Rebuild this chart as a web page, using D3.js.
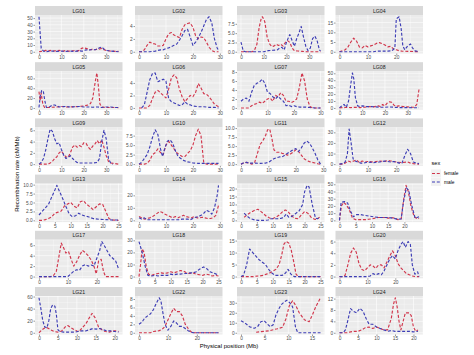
<!DOCTYPE html>
<html><head><meta charset="utf-8">
<script src="https://cdn.jsdelivr.net/npm/d3@7"></script>
<style>
body{margin:0;background:#fff}
svg{display:block}
text{font-family:"Liberation Sans",Arial,sans-serif}
</style>
</head><body>
<svg id="c" width="474" height="355"></svg>
<script>
// ---------- data (Physical position Mb, recombination rate cM/Mb) ----------
const panels = ["LG01","LG02","LG03","LG04","LG05","LG06","LG07","LG08","LG09","LG10","LG11","LG12",
                "LG13","LG14","LG15","LG16","LG17","LG18","LG19","LG20","LG21","LG22","LG23","LG24"];
const lgLength = [35.5,29.5,35,28,35.5,29.5,30,35,35.5,29.5,29,28,25,29.5,25,24.5,27.5,25,25,28.5,21,27.5,16.8,21.5];
const xTicks = [[0,10,20,30],[0,10,20,30],[0,10,20,30],[0,10,20],
                [0,10,20,30],[0,10,20,30],[0,10,20,30],[0,10,20,30],
                [0,10,20,30],[0,10,20,30],[0,10,20,30],[0,10,20],
                [0,5,10,15,20,25],[0,10,20,30],[0,5,10,15,20,25],[0,5,10,15,20],
                [0,10,20],[0,5,10,15,20,25],[0,5,10,15,20,25],[0,10,20],
                [0,5,10,15,20],[0,10,20],[0,5,10,15],[0,5,10,15,20]];
const yTicks = [["0","10","20","30","40","50"],["0","2","4"],["0.0","2.5","5.0","7.5"],["0","5","10","15"],
                ["0","20","40","60"],["0","2","4"],["0","2","4","6","8"],["0","10","20","30","40","50"],
                ["0","2","4","6"],["0.0","2.5","5.0","7.5"],["0.0","2.5","5.0","7.5","10.0"],["0","10","20","30"],
                ["0.0","2.5","5.0","7.5","10.0"],["0","10","20"],["0","5","10","15","20"],["0","10","20","30","40","50"],
                ["0","2","4","6"],["0","10","20","30"],["0","5","10","15"],["0","2","4","6"],
                ["0","20","40","60"],["0","2","4","6","8"],["0","10","20","30"],["0","4","8","12"]];

const f01 = [[0,0],[1,0.5],[2,1],[3,2],[4,1],[5,2],[6,1],[7,1.5],[8,1],[9,2],[10,1],[11,1],[12,2],[13,1],[14,1],[15,1.5],[16,1.5],[17,1],[18,2],[19,5],[20,6],[21,5],[22,4],[23,3],[24,4],[25,3],[26,4],[27,4],[28,5],[29,3],[30,2],[31,1.5],[32,1],[33,1],[34,0.5],[35.5,0.5]];
const m01 = [[0,52],[1,5],[2,1],[3,0],[4,0.5],[6,1],[8,0.5],[10,1],[12,0.5],[14,1],[16,0.5],[18,1.5],[19,1],[20,1],[21,3],[22,2],[23,3],[24,3],[25,3],[26,4],[27,6],[28,7],[29,4],[30,2],[31,1.5],[32,1],[34,0.5],[35.5,0]];
const f02 = [[0,0],[1,0],[2,0.3],[3,1],[4,1.5],[5,1.3],[6,1.2],[7,0.9],[8,0.9],[9,1],[10,2],[11,2.8],[12,3],[13,2.6],[14,2.4],[15,2.2],[16,3.5],[17,4.2],[18,4.4],[19,4.5],[20,3.8],[21,2.5],[22,2],[23,2.3],[24,2.2],[25,1.5],[26,0.7],[27,0.2],[28,0],[29.5,0]];
const m02 = [[0,0],[2,0],[4,0],[6,0.1],[7,0.2],[8,0.3],[9,0.3],[10,0.5],[11,0.6],[12,0.8],[13,1],[14,1.2],[15,1.8],[16,2.5],[17,3.3],[18,3.5],[19,2.3],[20,1],[21,1.5],[22,2.2],[23,3],[24,4],[25,5],[26,5.45],[27,4.5],[28,2],[29,0.6],[29.5,0.2]];
const f03 = [[0,0],[2,0],[4,0],[5,0],[6,0.5],[7,2],[8,6.5],[9,9.2],[9.5,9.4],[10.5,8],[11.5,4],[12.5,2.2],[13.5,1.4],[14.5,1.5],[15.5,2],[16.5,1.7],[17.5,2],[18.5,1.5],[19.5,2.5],[20.5,3],[21.5,2.5],[22.5,1],[23.5,0.3],[25,0.2],[27,0.1],[29,0],[31,0],[33,0],[35,0]];
const m03 = [[0,2.6],[1,0.2],[2,0],[4,0],[6,0],[8,0],[10,0],[11,0.1],[12,0.3],[14,0.4],[16,0.5],[17,1],[18,1.2],[19,0.5],[20,2.5],[21,4],[21.5,4.6],[22.5,3],[23.5,1.5],[24.5,3.5],[25.5,5],[26.5,6.8],[27.5,4],[28.5,1.5],[29.5,0.3],[30.5,1],[31.5,3.5],[32.5,4.2],[33.5,3],[34.5,0.5],[35,0.2]];
const f04 = [[0,0],[1,0.5],[2,1],[3,2.5],[4,5],[5,7],[6,5.5],[7,2.5],[8,2],[9,3.2],[10,2.5],[11,3],[12,3.5],[13,4.3],[14,4.7],[15,4.2],[16,3.5],[17,2.5],[18,2.8],[19,1.5],[20,1],[21,0.5],[22,0.3],[24,0.2],[26,0.1],[28,0]];
const m04 = [[0,0],[2,0],[4,0],[6,0],[8,0],[10,0],[12,0],[13,0.3],[15,0.3],[17,0.3],[18.5,0.5],[19.5,2],[20,17],[21,18],[21.7,12],[22.3,3],[23,1],[24,3],[25,4],[25.7,2],[26.5,0.5],[28,0]];
const f05 = [[0,33],[0.5,15],[1,30],[1.7,8],[2.5,1],[4,1],[6,1.5],[8,2],[10,3],[12,2],[14,2],[16,2.5],[18,3],[20,4],[22,6],[23,9],[24,20],[25,50],[25.8,71],[26.5,45],[27.2,8],[28,2],[30,1],[32,1],[34,1],[35.5,0.5]];
const m05 = [[0,1],[0.6,25],[1.2,35],[1.9,35],[2.6,15],[3.3,1],[4,1],[5,3],[6,6],[7,6],[8,4],[9,2],[10,2.5],[12,3],[14,2],[16,2.5],[18,3],[20,2],[22,2],[24,1.5],[26,2],[28,1],[30,2],[32,2],[34,1],[35.5,1]];
const f06 = [[0,0],[1,0],[2,0],[3,0],[4,0.4],[5,1.5],[6,2.5],[7,2.8],[8,2.4],[9,2],[10,1.6],[11,3],[12,4.8],[13,5.3],[14,4.8],[15,3],[16,1.8],[17,1],[18,1.5],[19,2],[20,1.8],[21,2.5],[22,3.9],[23,3.2],[24,2.3],[25,2.2],[26,1.8],[27,1.2],[28,0.6],[29.5,0.2]];
const m06 = [[1,0],[2,0.5],[3,2.5],[4,4.5],[5,5.5],[6,5.6],[7,4.2],[8,4.4],[9,4.6],[10,4.3],[11,1.5],[12,1],[13,0.8],[14,0.6],[15,0.4],[16,0.5],[17,1],[18,0.6],[19,0.5],[20,0.3],[22,0.2],[24,0.2],[26,0.1],[28,0.1],[29.5,0]];
const f07 = [[0,0],[1,0],[2,0],[3,0],[4,0.5],[5,0.8],[6,1],[7,1.3],[8,1],[9,1.5],[10,2],[11,2.2],[12,1.5],[13,2.8],[14,2.5],[15,3.4],[16,2.8],[17,1.5],[18,1.5],[19,1.2],[20,1.5],[21,2],[22,4.5],[23,7.8],[24,6],[25,2],[26,0.3],[27,0],[28,0],[30,0]];
const m07 = [[0,1.5],[1,2],[2,2.2],[3,1.5],[4,3.5],[5,5],[6,5.5],[7,5.8],[8,6.4],[9,5.5],[10,3.5],[11,3.2],[12,2.5],[13,2],[14,2.6],[15,2],[16,1.5],[17,0.5],[18,0.6],[19,0.3],[20,0.5],[21,0.3],[22,0.2],[24,0.2],[26,0.1],[28,0],[30,0]];
const f08 = [[0,0],[1,0.5],[2,0.5],[3,1],[5,0.5],[7,1],[9,0.5],[11,1],[13,2],[15,1.5],[17,3],[18,2],[19,5],[20,3],[21,7],[22,9],[23,8],[24,4],[25,2],[26,3],[28,2],[30,1.5],[32,1],[33,1],[34,5],[35,27]];
const m08 = [[0,0],[1,3],[2,5],[3,1],[4,10],[5,35],[5.7,50.5],[6.3,42],[7,15],[8,3],[9,2],[10,3],[12,2],[14,2],[16,1.5],[18,1],[20,1],[22,1.5],[24,1],[26,0.5],[28,0.5],[30,0.5],[32,0.3],[34,0.3],[35,0.3]];
const f09 = [[0,0],[2,0],[4,0],[5,0.2],[6,0.5],[7,1],[8,1.3],[9,2],[10,2.3],[11,1.8],[12,1.3],[13,1.2],[14,2],[15,3],[16,3.4],[17,3],[18,3.3],[19,3.1],[20,3.8],[21,3.7],[22,3],[23,2.6],[24,3.2],[25,3.6],[26,4.2],[27,3.6],[28,4.3],[29,3],[30,1.5],[31,0.5],[32,0.2],[34,0.1],[35.5,0]];
const m09 = [[0,0],[1,0.3],[2,1],[3,2.5],[4,4.5],[5,6.2],[6,5.8],[7,4.5],[8,3.6],[9,3.8],[10,2.6],[11,1.6],[12,1],[13,1.2],[14,1.5],[15,1],[16,0.6],[17,0.3],[18,0.2],[20,0.2],[22,0.2],[24,0.2],[26,0.3],[27,1],[28,4],[29,6],[30,4.5],[31,1],[32,0.2],[33,0]];
const f10 = [[0,0],[2,0],[3,0.2],[4,1],[5,2.5],[6,3],[7,4],[8,3],[9,2.5],[10,5],[11,6],[12,5],[13,4],[14,3],[15,2.5],[16,2],[17,2],[18,2.8],[19,3.5],[20,5],[21,7.5],[22,9.2],[23,7.5],[24,0.5],[25,0],[27,0],[29.5,0]];
const m10 = [[0,0],[1,0.5],[2,1.5],[3,2.5],[4,4.5],[5,7],[6,9],[7,7.8],[8,4],[8.7,2],[9.5,4],[10.5,6],[11.5,6.4],[12.5,5.5],[13.5,3.5],[14.5,2],[15.5,1.5],[16.5,1],[18,0.6],[19,0.5],[20,0.3],[22,0.2],[24,0.2],[26,0.2],[28,0.2],[29.5,0.2]];
const f11 = [[0,0],[1,0.3],[2,0.5],[3,0.3],[4,0],[5,0.5],[6,3],[7,5.5],[8,6.5],[9,8],[9.7,9.5],[10.5,9.7],[11.3,7],[12,4],[13,3.3],[14,3.3],[15,3],[16,2.8],[17,2.5],[18,2.8],[19,3.3],[20,4],[21,3.5],[22,2.5],[23,1.5],[24,1],[25,0.7],[26,0.5],[27,0.3],[28,0.1],[29,0]];
const m11 = [[0,0],[1,0.4],[2,0.5],[3,0.3],[5,0.3],[7,0.2],[9,0.3],[10,0.5],[11,1],[12,1.5],[13,1.8],[14,2],[15,2],[16,2.5],[17,3],[18,3.5],[19,4],[20,4.3],[21,3.5],[22,4.5],[23,5.8],[24,6.4],[25,5.8],[26,4.5],[27,3],[28,1.2],[29,0]];
const f12 = [[0,0],[1,0],[2,1],[3,3],[4,2],[5,3],[6,4],[7,1.5],[8,3],[9,2],[10,2.5],[12,2],[14,3],[16,2.5],[17,3.5],[18,3],[20,2],[22,1.5],[24,2],[25,1],[26,0.5],[27,0.2],[28,0]];
const m12 = [[0,0],[1,0.5],[2,2],[2.8,10],[3.4,33],[4,22],[4.8,5],[5.5,3],[6.5,2],[7.5,1],[8.5,1],[10,2],[12,1.5],[14,2],[16,3],[18,2],[19,2.5],[20,2],[21,1],[22,1],[23,8],[24,14],[25,10],[26,2],[27,1],[28,0.5]];
const f13 = [[0,0],[1,0],[2,0.2],[3,0.5],[4,1],[5,2],[6,2.3],[7,2.6],[8,4],[9,4.6],[10,5],[11,4],[12,3.5],[13,5.2],[14,5.5],[15,4.5],[16,3.8],[17,3],[18,3.8],[19,4.6],[20,4.5],[21,2.5],[22,0.5],[23,0.1],[25,0]];
const m13 = [[0,1.5],[1,2.5],[2,3.5],[3,4.5],[4,6.5],[5,8.5],[5.6,9.8],[6.5,8],[7.5,6],[8.5,3.8],[9.5,1.8],[10.5,1],[11.5,1.3],[12.5,2],[13.5,1.5],[14.5,1.2],[15.5,1],[17,0.5],[19,0.3],[21,0.2],[23,0.1],[25,0.1]];
const f14 = [[0,3],[1,2],[2,1],[3,1.5],[4,2],[5,3],[6,4.5],[7,6],[7.7,7],[8.5,6.5],[9.5,5],[10.5,4],[11.5,3],[12.5,2],[13.5,3],[14.5,2],[15.5,3],[16.5,4],[17.5,3],[18.5,2.5],[19.5,2],[20.5,3],[21.5,2],[22.5,2],[23.5,2.5],[24.5,2],[25.5,1.5],[26.5,1.5],[27.5,2],[28.5,4],[29.5,12]];
const m14 = [[0,2],[1,1],[2,2],[3,0.5],[5,0.5],[7,0.5],[9,0.5],[11,0.5],[13,0.5],[15,0.5],[16,1],[17,1],[18,1],[19,0.5],[20,1.5],[21,2.5],[22,3],[23,4],[24,5.5],[25,8],[26,7],[27,5],[28,10],[29,20],[29.5,28]];
const f15 = [[1,2],[2,3.5],[3,5],[4.5,6.5],[5.3,7],[6.3,5.5],[7.2,4],[8,2.5],[9,1.5],[9.8,1],[10.8,1.8],[11.8,3],[12.6,4.5],[13.4,6],[14,6.5],[14.8,5.5],[15.6,3.5],[16.4,2],[17.2,1.2],[18,1],[19,3.5],[20,5.5],[21,4.5],[22,2],[23,0.8],[23.8,0.5],[24.7,2]];
const m15 = [[1,4.5],[2,2.5],[3,1],[4.5,0.2],[5.5,0],[6.5,0],[7.5,0],[8.5,0.2],[9.5,1],[10.5,1],[11.5,1],[12.5,1.2],[13.5,2],[14.2,4],[15,2],[16,2.5],[17,4],[18.3,6],[19.4,10],[20,18],[20.8,22],[21.4,21],[22.4,10],[23.4,1.5],[24,1],[24.7,2]];
const f16 = [[0,0],[0.6,20],[1.3,25],[2,22],[3,15],[4,3],[5,1],[6,1],[7,1],[8,1],[9,1.5],[10,2],[11,3],[12,4],[13,4],[14,4],[15,3],[16,4],[17,3],[18,1],[19,2],[19.8,30],[20.5,48.5],[21.2,40],[22,20],[23,5],[24,2],[24.5,3]];
const m16 = [[0,0],[0.5,25],[1.5,26],[2.5,24],[3.5,12],[4.3,5],[5.3,8],[6.5,8],[7.5,7],[9,6],[10.5,5],[12,4],[13.5,4],[15,4],[16.5,3],[18,1.5],[19,2],[19.7,25],[20.6,45],[21.3,42],[22.3,20],[23.3,3],[24.5,5]];
const f17 = [[0,0],[2,0],[4,0],[5,0.2],[6,1],[6.8,3.5],[7.7,6.4],[8.5,5.5],[9.3,4.5],[10.2,4.8],[11,3.5],[12,2],[13,2.8],[14,4],[15,5],[16,4.6],[17,4],[18,3.2],[19,2],[19.8,0.5],[20.6,3],[21.5,3.3],[22.3,1],[23,0],[25,0],[27.5,0]];
const m17 = [[0,0],[2,0],[4,0],[6,0],[8,0],[10,0],[11,0.5],[12,1],[13,1.3],[14,1.2],[15,2],[16,2.3],[17,2],[18,2.2],[19,2],[20,3.5],[21,5],[21.7,6.7],[22.5,6],[23.5,5],[24.5,4],[25.5,3.5],[26.5,3],[27.5,1.5]];
const f18 = [[0,0],[0.5,10],[1,23],[1.6,20],[2.3,8],[3,2],[4,1],[5,2],[6,2.5],[7,3],[8,2.5],[9,3],[10,4],[11,3],[12,4],[13,5],[14,4.5],[15,3],[16,2.5],[17,3],[18,2],[19,1.5],[20,1],[21,2],[22,1.5],[23,0.5],[24,1],[25,0.5]];
const m18 = [[0,29],[1,20],[2,8],[2.8,1],[4,0.5],[5,1],[6,0.5],[7,1],[8,1],[9,1],[10,2],[11,1.5],[12,2],[13,2],[14,2.5],[15,2.5],[16,3],[17,3],[18,4],[19,6],[20.3,8],[21.3,6.5],[22.3,4],[23.3,3],[24.3,2],[25,1]];
const f19 = [[0,0],[2,0],[4,0],[5,0.2],[6,0.3],[7,0.5],[8,1],[9,1.5],[10,2.2],[11,3],[12,5],[12.8,9],[13.5,13.5],[14.2,14.6],[15,14],[15.8,11],[16.6,6],[17.3,1],[18,0],[20,0],[22,0],[25,0]];
const m19 = [[0,0],[0.8,0.5],[1.8,5],[2.7,11.5],[3.7,10],[4.7,8.5],[5.7,7],[6.7,6],[7.7,5],[8.7,3],[9.7,1.5],[10.7,0.5],[12,0.5],[13,0.5],[14,1.5],[14.8,3],[15.7,1],[16.7,0],[18,0],[20,0],[22,0],[25,0]];
const f20 = [[0,0],[1,0],[2,0.2],[3,2],[4,4],[5,4.9],[6,4.2],[7,2.2],[8,1.2],[9,1],[10,1.5],[11,2],[12,1.8],[13,1.4],[14,2],[15,2],[16,1.5],[17,2.5],[18,3.5],[19,4.4],[20,3.6],[21,2.2],[22,1.5],[23,1],[24,0.5],[25,0.3],[26,0.1],[27,0],[28.5,0]];
const m20 = [[0,0],[2,0],[4,0],[6,0],[8,0],[10,0],[11,0.1],[12,0.5],[13,0.3],[14,0.5],[15,0.3],[16,1],[17,2],[18,3],[19,3.6],[20,3],[21,4.5],[22,5.5],[22.8,6],[23.6,5],[24.6,6],[25.4,5.5],[26.1,2],[27,0.4],[28,0.8],[28.5,0]];
const f21 = [[0,0],[0.8,5],[1.5,8],[2.3,8],[3,5],[4,2],[5,1],[6,3],[7,10],[7.6,12],[8.5,8],[9.3,5],[10,3],[10.6,2],[11.4,8],[12.4,15],[13.3,25],[14,32],[14.8,25],[15.7,10],[16.6,5],[17.5,2],[18.5,1],[19.5,3],[20.3,3],[21,2]];
const m21 = [[0,58],[0.5,40],[1,20],[1.5,10],[2.1,8],[2.6,20],[3.1,40],[3.6,46],[4.2,44],[4.6,30],[5,5],[5.5,2],[6.5,1],[7.5,1],[8.5,1],[9.5,1],[10.3,2],[11.3,3],[12.3,3],[13.3,5],[14.2,7],[15.1,6],[16,7],[17,5],[18,3],[19,3],[20,2],[21,1]];
const f22 = [[0,0],[2,0],[4,0],[5,0.3],[6,0.4],[7,0.5],[8,0.8],[9,1.5],[10,3],[11,4.5],[12,5.8],[13,5],[14,5],[15,4],[16,2],[17,1],[18,0.2],[19,0],[21,0],[23,0],[25,0],[27.5,0]];
const m22 = [[0,2],[1,2.5],[2,3.5],[3,4],[4,4.5],[5,5.5],[6,7],[7,8.3],[7.6,7.5],[8.2,5],[9,2],[10,0.6],[11,1.5],[12,2.8],[13,2.3],[14,1.5],[15,1.5],[16,1],[17,0.5],[18,0.1],[19,0],[21,0],[23,0],[25,0],[27.5,0]];
const f23 = [[3.2,0.5],[4,1],[5,1.5],[6,2],[6.8,3],[7.7,4],[8.8,5.5],[9.5,14],[10.2,27],[10.9,32],[11.6,27],[12.3,20],[13.4,13],[14.4,11],[15.1,18],[15.8,26],[16.8,35]];
const m23 = [[0,12],[0.8,10],[1.8,6],[2.8,4.5],[3.5,6],[4.2,11],[4.9,12],[5.5,9],[6.2,6],[6.8,8],[7.4,18],[8,24],[8.5,28],[9.2,31],[9.7,32.5],[10.3,30],[10.9,26],[11.5,6],[12,0],[13,0],[14,0],[15,0],[16,0],[16.8,0]];
const f24 = [[0,0],[1,0],[2,0],[3,0.3],[4,0.5],[5,0.5],[6,1],[7,1.8],[8,2],[9,1.5],[10,2],[11,1.5],[12,1],[13,1],[14,5],[14.6,10],[15.1,12.3],[15.6,9],[16.1,4],[16.6,1],[17.2,4],[17.8,7],[18.8,7],[19.4,6],[20,2],[20.6,0.5],[21.2,1]];
const m24 = [[0,0],[1,0],[1.6,1],[2.2,4],[3,8.5],[3.8,7.5],[4.6,7],[5.5,8.6],[6.4,7.5],[7.2,5],[8,3],[9,3],[10,2],[11,1.5],[12,1],[13,0.5],[14,0.8],[15,0.5],[16,0.5],[17,0.5],[18,0.5],[19,0.5],[20,0.3],[21.2,0.5]];

const female = [f01,f02,f03,f04,f05,f06,f07,f08,f09,f10,f11,f12,f13,f14,f15,f16,f17,f18,f19,f20,f21,f22,f23,f24];
const male   = [m01,m02,m03,m04,m05,m06,m07,m08,m09,m10,m11,m12,m13,m14,m15,m16,m17,m18,m19,m20,m21,m22,m23,m24];
const sexes = ["female","male"];

// ---------- layout ----------
const colLeft = [35,135,237,335.5], panelW = 87.5;
const stripH = 9, panelH = 38.5, rowPitch = 56.2, top0 = 6;
const colors = {female:"#d1364c", male:"#3d3db5"};
const svg = d3.select("#c");

function minorOf(ticks, dom){
  const step = ticks.length>1 ? ticks[1]-ticks[0] : 1;
  const out = [];
  for (let t = ticks[0]-step; t <= ticks[ticks.length-1]+step; t += step){
    const m = t + step/2;
    if (m >= dom[0] && m <= dom[1]) out.push(m);
  }
  return out;
}

panels.forEach((name,i)=>{
  const c = i%4, r = Math.floor(i/4);
  const x0 = colLeft[c], sy = top0 + rowPitch*r, y0 = sy + stripH;
  const L = lgLength[i];
  const xs = d3.scaleLinear().domain([-0.05*L, 1.05*L]).range([0,panelW]);
  const ymax = d3.max(female[i].concat(male[i]), d=>d[1]);
  const ys = d3.scaleLinear().domain([-0.05*ymax, 1.05*ymax]).range([panelH,0]);
  const yt = yTicks[i].map(Number), xt = xTicks[i];

  // strip
  svg.append("rect").attr("x",x0).attr("y",sy).attr("width",panelW).attr("height",stripH).attr("fill","#d9d9d9");
  svg.append("text").attr("x",x0+panelW/2).attr("y",sy+stripH/2).attr("text-anchor","middle")
     .attr("dominant-baseline","central").attr("font-size",5.2).attr("fill","#1a1a1a").text(name);

  const g = svg.append("g").attr("transform",`translate(${x0},${y0})`);
  g.append("rect").attr("width",panelW).attr("height",panelH).attr("fill","#ebebeb");
  // minor grid
  minorOf(xt, xs.domain()).forEach(v=>g.append("line").attr("x1",xs(v)).attr("x2",xs(v)).attr("y1",0).attr("y2",panelH).attr("stroke","#fff").attr("stroke-width",0.3));
  minorOf(yt, ys.domain()).forEach(v=>g.append("line").attr("y1",ys(v)).attr("y2",ys(v)).attr("x1",0).attr("x2",panelW).attr("stroke","#fff").attr("stroke-width",0.3));
  // major grid
  xt.forEach(v=>g.append("line").attr("x1",xs(v)).attr("x2",xs(v)).attr("y1",0).attr("y2",panelH).attr("stroke","#fff").attr("stroke-width",0.6));
  yt.forEach(v=>g.append("line").attr("y1",ys(v)).attr("y2",ys(v)).attr("x1",0).attr("x2",panelW).attr("stroke","#fff").attr("stroke-width",0.6));

  // lines
  const line = d3.line().x(d=>xs(d[0])).y(d=>ys(d[1]));
  [[female[i],"female"],[male[i],"male"]].forEach(([data,s])=>{
    g.append("path").attr("d",line(data)).attr("fill","none").attr("stroke",colors[s])
     .attr("stroke-width",1.15).attr("stroke-dasharray","3,1.8").attr("stroke-linejoin","round");
  });

  // axes
  const ax = g.append("g").attr("transform",`translate(0,${panelH})`)
     .call(d3.axisBottom(xs).tickValues(xt).tickSize(1.5).tickPadding(0.8).tickFormat(d3.format("d")));
  const ay = g.append("g")
     .call(d3.axisLeft(ys).tickValues(yt).tickSize(1.5).tickPadding(0.8).tickFormat((d,k)=>yTicks[i][k]));
  [ax,ay].forEach(a=>{
    a.select(".domain").remove();
    a.selectAll(".tick line").attr("stroke","#333").attr("stroke-width",0.5);
    a.selectAll(".tick text").attr("font-size",4.8).attr("fill","#4d4d4d").attr("font-family","Liberation Sans, Arial, sans-serif");
  });
});

// axis titles
svg.append("text").attr("x",229).attr("y",346).attr("text-anchor","middle").attr("dominant-baseline","central")
   .attr("font-size",6).attr("fill","#000").text("Physical position (Mb)");
svg.append("text").attr("transform","translate(17,174) rotate(-90)").attr("text-anchor","middle").attr("dominant-baseline","central")
   .attr("font-size",6).attr("fill","#000").text("Recombination rate (cM/Mb)");

// legend
const lg = svg.append("g").attr("transform","translate(431,0)");
lg.append("text").attr("x",0.5).attr("y",163).attr("dominant-baseline","central").attr("font-size",5.6).attr("fill","#000").text("sex");
sexes.forEach((s,k)=>{
  const cy = 173.5 + k*8.5;
  lg.append("rect").attr("x",0).attr("y",cy-4).attr("width",10).attr("height",8).attr("fill","#f2f2f2");
  lg.append("line").attr("x1",1).attr("x2",9).attr("y1",cy).attr("y2",cy).attr("stroke",colors[s]).attr("stroke-width",1.1).attr("stroke-dasharray","3,1.8");
  lg.append("text").attr("x",13).attr("y",cy).attr("dominant-baseline","central").attr("font-size",4.8).attr("fill","#000").text(s);
});
</script>
</body></html>
